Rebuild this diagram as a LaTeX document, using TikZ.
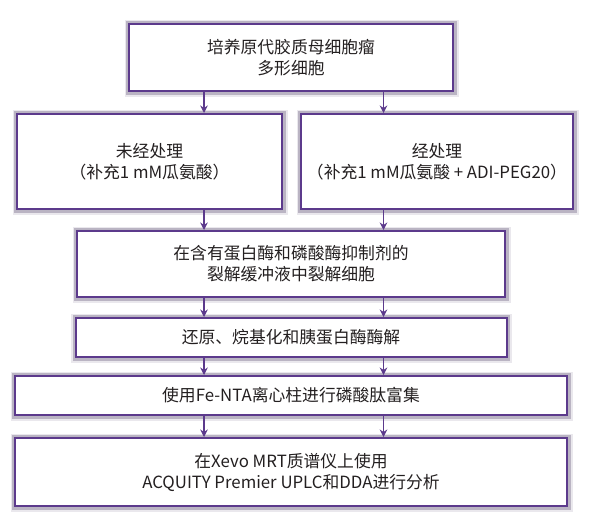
\documentclass[tikz,border=0pt]{standalone}
\usepackage{fontspec}
\setmainfont{Noto Sans CJK SC}
\usetikzlibrary{arrows.meta, positioning}
\definecolor{frame}{RGB}{92, 58, 140}
\definecolor{ink}{RGB}{35, 31, 32}
\tikzset{
    base/.style={text centered, align=center, text=ink, font=\fontsize{16.8}{21}\selectfont},
    stepbox/.style={base, rectangle, inner sep=0pt, draw=frame, fill=white, line width=2pt,
        preaction={draw=frame!35!gray, line width=10pt, opacity=0.15, transform canvas={xshift=0.6pt, yshift=-0.6pt}},
        preaction={draw=frame!35!gray, line width=6.5pt, opacity=0.4, transform canvas={xshift=0.6pt, yshift=-0.6pt}}},
    arrow/.style={line width=1.8pt, -{Stealth[length=7.5pt, width=7.5pt]}, color=frame}
}

\begin{document}
\begin{tikzpicture}[x=1pt, y=1pt, node distance=60pt]
        \useasboundingbox (0,0) rectangle (594,-519);

        % -- Cell culture --
        \node (culture) [stepbox, minimum width=324pt, minimum height=67pt] at (291,-57.5) {培养原代胶质母细胞瘤\\多形细胞};

        % -- Two conditions --
        \node (untreated) [stepbox, minimum width=265pt, minimum height=95pt, below of=culture, xshift=-141.5pt, yshift=-44pt] {未经处理\\（补充1 mM瓜氨酸）};
        \node (treated) [stepbox, minimum width=272pt, minimum height=95pt, below of=culture, xshift=146pt, yshift=-44pt] {经处理\\（补充1 mM瓜氨酸 + ADI-PEG20）};

        % -- Sample preparation --
        \node (lysis) [stepbox, minimum width=428pt, minimum height=66pt, below of=culture, yshift=-146.5pt] {在含有蛋白酶和磷酸酶抑制剂的\\裂解缓冲液中裂解细胞};
        \node (digest) [stepbox, minimum width=431pt, minimum height=39pt, below of=lysis, yshift=-13.5pt] {还原、烷基化和胰蛋白酶酶解};
        \node (enrich) [stepbox, minimum width=552pt, minimum height=39pt, below of=digest, yshift=2pt] {使用Fe-NTA离心柱进行磷酸肽富集};
        \node (analysis) [stepbox, minimum width=552pt, minimum height=68pt, below of=enrich, yshift=-16.5pt] {在Xevo MRT质谱仪上使用\\ACQUITY Premier UPLC和DDA进行分析};

        % Connectors
        \coordinate (la) at (204,0);
        \coordinate (ra) at (383.5,0);
        \draw [arrow] (culture.south -| la) -- (untreated.north -| la);
        \draw [arrow] (culture.south -| ra) -- (treated.north -| ra);
        \draw [arrow] (untreated.south -| la) -- (lysis.north -| la);
        \draw [arrow] (treated.south -| ra) -- (lysis.north -| ra);
        \draw [arrow] (lysis.south -| la) -- (digest.north -| la);
        \draw [arrow] (lysis.south -| ra) -- (digest.north -| ra);
        \draw [arrow] (digest.south -| la) -- (enrich.north -| la);
        \draw [arrow] (digest.south -| ra) -- (enrich.north -| ra);
        \draw [arrow] (enrich.south -| la) -- (analysis.north -| la);
        \draw [arrow] (enrich.south -| ra) -- (analysis.north -| ra);
    \end{tikzpicture}
\end{document}
